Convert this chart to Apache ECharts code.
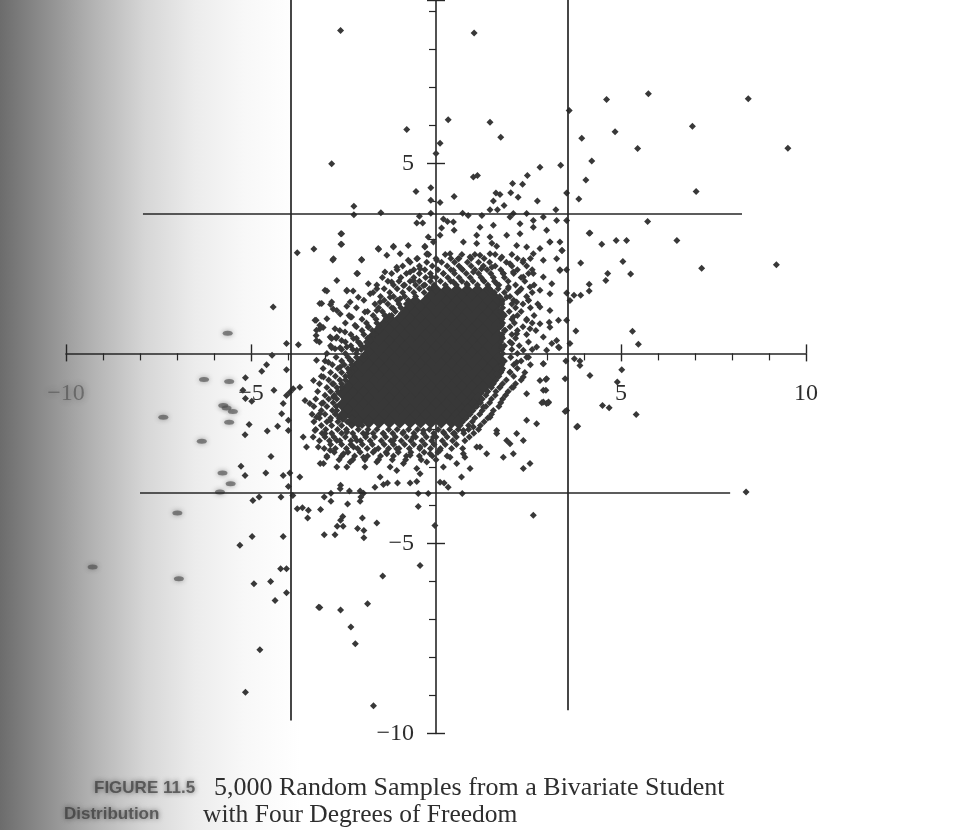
<!DOCTYPE html>
<html><head><meta charset="utf-8">
<script src="https://cdn.jsdelivr.net/npm/echarts/dist/echarts.min.js"></script>
<style>
html,body{margin:0;padding:0;background:#fff;}
#chart{width:960px;height:830px;background:linear-gradient(to right,#6c6c6c 0px,#8e8e8e 45px,#b4b4b4 95px,#d6d6d6 145px,#ececec 195px,#f8f8f8 245px,#ffffff 300px);}
</style></head><body><div id="chart"></div>
<script>
// ---- data ----
const xRange = [-10, 10];
const yRange = [-10, 9.3];
const xLabelValues = [-10, -5, 5, 10];
const yLabelValues = [-10, -5, 5];
// quantile reference lines: [position, from, to]
const verticalLines = [[-3.92, -9.66, 9.3], [3.55, -9.39, 9.3]];
const horizontalLines = [[3.68, -7.92, 8.27], [-3.66, -8.0, 7.95]];

// solid centre of the cloud: [y, [x values]]
const coreRows = [
 [1.65, [0,0.28,0.56,0.84,1.12,1.4]],
 [1.50, [-0.14,0.14,0.42,0.7,0.98,1.26,1.54]],
 [1.35, [-0.56,-0.28,0,0.28,0.56,0.84,1.12,1.4,1.68]],
 [1.20, [-0.7,-0.42,-0.14,0.14,0.42,0.7,0.98,1.26,1.54]],
 [1.05, [-0.84,-0.56,-0.28,0,0.28,0.56,0.84,1.12,1.4,1.68]],
 [0.90, [-1.26,-0.98,-0.7,-0.42,-0.14,0.14,0.42,0.7,0.98,1.26,1.54]],
 [0.75, [-1.4,-1.12,-0.84,-0.56,-0.28,0,0.28,0.56,0.84,1.12,1.4,1.68]],
 [0.60, [-1.54,-1.26,-0.98,-0.7,-0.42,-0.14,0.14,0.42,0.7,0.98,1.26,1.54]],
 [0.45, [-1.68,-1.4,-1.12,-0.84,-0.56,-0.28,0,0.28,0.56,0.84,1.12,1.4,1.68]],
 [0.30, [-1.71,-1.54,-1.26,-0.98,-0.7,-0.42,-0.14,0.14,0.42,0.7,0.98,1.26,1.54]],
 [0.15, [-1.83,-1.68,-1.4,-1.12,-0.84,-0.56,-0.28,0,0.28,0.56,0.84,1.12,1.4,1.68]],
 [0.00, [-1.82,-1.54,-1.26,-0.98,-0.7,-0.42,-0.14,0.14,0.42,0.7,0.98,1.26,1.54]],
 [-0.15, [-1.96,-1.68,-1.4,-1.12,-0.84,-0.56,-0.28,0,0.28,0.56,0.84,1.12,1.4,1.68]],
 [-0.30, [-2.1,-1.82,-1.54,-1.26,-0.98,-0.7,-0.42,-0.14,0.14,0.42,0.7,0.98,1.26,1.54]],
 [-0.45, [-2.24,-1.96,-1.68,-1.4,-1.12,-0.84,-0.56,-0.28,0,0.28,0.56,0.84,1.12,1.4,1.68]],
 [-0.60, [-2.26,-2.1,-1.82,-1.54,-1.26,-0.98,-0.7,-0.42,-0.14,0.14,0.42,0.7,0.98,1.26,1.54]],
 [-0.75, [-2.24,-1.96,-1.68,-1.4,-1.12,-0.84,-0.56,-0.28,0,0.28,0.56,0.84,1.12,1.4]],
 [-0.90, [-2.38,-2.1,-1.82,-1.54,-1.26,-0.98,-0.7,-0.42,-0.14,0.14,0.42,0.7,0.98,1.26]],
 [-1.05, [-2.52,-2.24,-1.96,-1.68,-1.4,-1.12,-0.84,-0.56,-0.28,0,0.28,0.56,0.84,1.12]],
 [-1.20, [-2.38,-2.1,-1.82,-1.54,-1.26,-0.98,-0.7,-0.42,-0.14,0.14,0.42,0.7,0.98,1.14]],
 [-1.35, [-2.52,-2.24,-1.96,-1.68,-1.4,-1.12,-0.84,-0.56,-0.28,0,0.28,0.56,0.84,1.01]],
 [-1.50, [-2.38,-2.1,-1.82,-1.54,-1.26,-0.98,-0.7,-0.42,-0.14,0.14,0.42,0.7,0.87]],
 [-1.65, [-2.52,-2.24,-1.96,-1.68,-1.4,-1.12,-0.84,-0.56,-0.28,0,0.28,0.56,0.74]],
 [-1.80, [-2.27,-2.1,-1.82,-1.54,-1.26,-0.98,-0.7,-0.42,-0.14,0.14,0.42,0.6]]
];

// dense speckled zone around the centre, thinning outwards: [y, [x values]]
const bandRows = [
 [2.6, [-0.2,0.25,0.7,1.05,1.6,2.05]],
 [2.5, [-0.5,0.0,0.4,0.62,0.95,1.3,1.75,2.2,2.55]],
 [2.4, [-0.7,-0.25,0.15,0.5,0.85,1.15,1.45,1.9,2.35]],
 [2.3, [-0.9,-0.45,-0.1,0.3,0.62,0.95,1.28,1.6,2.05,2.45]],
 [2.2, [-1.05,-0.6,-0.3,0.05,0.4,0.72,1.05,1.38,1.75,2.2,2.6]],
 [2.1, [-1.2,-0.8,-0.45,-0.15,0.2,0.5,0.82,1.15,1.48,1.82,2.1,2.5]],
 [2.0, [-1.45,-0.95,-0.6,-0.28,0.0,0.32,0.62,0.92,1.22,1.55,1.85,2.3]],
 [1.9, [-1.3,-1.0,-0.7,-0.45,-0.15,0.12,0.4,0.7,1.0,1.3,1.58,1.95,2.4]],
 [1.8, [-1.6,-1.15,-0.85,-0.55,-0.3,-0.05,0.25,0.55,0.85,1.12,1.4,1.7,2.15,2.65]],
 [1.7, [-1.4,-1.05,-0.72,-0.45,-0.18,1.45,1.68,1.95,2.3]],
 [1.6, [-1.7,-1.25,-0.9,-0.6,-0.32,1.58,1.85,2.2,2.6]],
 [1.5, [-1.5,-1.15,-0.85,-0.55,1.72,2.0,2.45]],
 [1.4, [-1.95,-1.4,-1.05,-0.75,1.8,2.1,2.5]],
 [1.3, [-1.65,-1.3,-1.0,-0.8,1.78,2.05,2.35,2.75]],
 [1.2, [-2.15,-1.55,-1.2,-0.95,1.8,2.15,2.55]],
 [1.1, [-1.85,-1.45,-1.1,1.75,1.98,2.3]],
 [1.0, [-2.35,-1.7,-1.38,-1.2,1.85,2.2,2.65]],
 [0.9, [-2.0,-1.62,-1.35,1.78,2.05,2.45]],
 [0.8, [-2.45,-1.88,-1.6,1.8,2.12,2.6]],
 [0.7, [-2.15,-1.82,-1.55,1.75,2.0,2.35]],
 [0.6, [-2.6,-2.0,-1.72,1.85,2.2,2.7]],
 [0.5, [-2.3,-1.95,-1.7,1.78,2.05,2.45]],
 [0.4, [-2.7,-2.15,-1.85,1.8,2.15]],
 [0.3, [-2.45,-2.1,-1.88,1.75,2.0,2.5]],
 [0.2, [-2.85,-2.3,-2.02,1.85,2.25]],
 [0.1, [-2.55,-2.25,-2.02,1.78,2.05,2.6]],
 [0.0, [-2.95,-2.45,-2.15,1.8,2.2]],
 [-0.1, [-2.7,-2.38,-2.15,1.75,2.02,2.45]],
 [-0.2, [-3.0,-2.55,-2.28,1.85,2.3]],
 [-0.3, [-2.8,-2.48,-2.28,1.78,2.1,2.55]],
 [-0.4, [-3.05,-2.65,-2.38,1.8,2.2]],
 [-0.5, [-2.85,-2.55,-2.35,1.75,2.0,2.4]],
 [-0.6, [-3.1,-2.72,-2.45,1.7,2.1]],
 [-0.7, [-2.9,-2.6,-2.45,1.62,1.9,2.3]],
 [-0.8, [-3.15,-2.8,-2.55,1.55,1.8,2.15]],
 [-0.9, [-2.95,-2.68,1.5,1.72,2.05]],
 [-1.0, [-3.2,-2.85,-2.65,1.4,1.62,1.95]],
 [-1.1, [-3.0,-2.75,1.35,1.6,1.88]],
 [-1.2, [-3.25,-2.9,-2.68,1.25,1.5,1.8]],
 [-1.3, [-3.05,-2.78,1.2,1.45,1.75]],
 [-1.4, [-3.3,-2.95,-2.7,1.1,1.35,1.7]],
 [-1.5, [-3.1,-2.8,1.0,1.25,1.55]],
 [-1.6, [-3.35,-3.0,-2.72,0.92,1.18,1.5]],
 [-1.7, [-3.15,-2.85,-2.62,0.82,1.05,1.4]],
 [-1.8, [-3.3,-2.95,-2.65,-2.4,0.72,0.98,1.3]],
 [-1.9, [-3.1,-2.82,-2.55,-2.28,-2.0,0.65,0.88,1.2]],
 [-2.0, [-3.25,-2.98,-2.66,-2.42,-2.1,-1.84,-1.6,-1.28,-1.05,-0.74,-0.5,-0.18,0.06,0.37,0.6,0.88,1.15]],
 [-2.1, [-3.08,-2.82,-2.55,-2.25,-1.97,-1.7,-1.43,-1.17,-0.9,-0.6,-0.34,-0.06,0.22,0.5,0.75,1.02]],
 [-2.2, [-3.0,-2.76,-2.45,-2.2,-1.9,-1.66,-1.36,-1.1,-0.8,-0.55,-0.26,0.0,0.3,0.55,0.9]],
 [-2.3, [-3.15,-2.88,-2.6,-2.3,-2.04,-1.78,-1.48,-1.22,-0.94,-0.68,-0.38,-0.12,0.17,0.45,0.78]],
 [-2.4, [-2.85,-2.55,-2.3,-1.99,-1.72,-1.4,-1.15,-0.85,-0.6,-0.3,-0.05,0.25,0.55]],
 [-2.5, [-3.02,-2.72,-2.42,-2.12,-1.86,-1.56,-1.28,-1.0,-0.72,-0.44,-0.15,0.12,0.42,0.72]],
 [-2.6, [-2.75,-2.38,-2.05,-1.7,-1.35,-1.02,-0.68,-0.32,0.05]],
 [-2.7, [-2.95,-2.55,-2.2,-1.85,-1.5,-1.15,-0.8,-0.45,-0.1,0.3]],
 [-2.8, [-2.62,-2.25,-1.92,-1.55,-1.18,-0.82,-0.4,0.0]]
];

// scattered points around the centre
const innerPoints = [
 [-2.55,2.87],[-1.56,2.76],[-1.15,2.80],[-0.75,2.84],[-0.30,2.80],[-0.07,2.93],[0.74,2.93],[1.10,2.89],[1.51,2.90],[1.64,2.82],[2.18,2.84],[2.45,2.80],[2.81,2.76],[3.08,2.93],
 [-2.77,2.49],[-2.01,2.47],[-1.33,2.58],[-0.97,2.62],[-0.75,2.45],[-0.52,2.49],[-0.25,2.61],[0.02,2.45],[0.38,2.62],[0.60,2.49],[0.92,2.54],[1.19,2.58],[1.46,2.62],[1.78,2.54],[2.00,2.36],[2.36,2.45],[2.63,2.62],[2.90,2.45],[3.26,2.49],
 [-2.14,2.10],[-1.38,2.14],[-1.06,2.27],[-0.70,2.14],[-0.43,2.23],[-0.12,2.01],[0.20,2.10],[0.47,2.18],[0.69,2.23],[1.01,2.14],[1.23,2.23],[1.51,2.27],[1.82,2.10],[2.09,2.14],[2.36,2.01],[2.63,2.10],[2.90,2.01],[3.13,1.83],
 [-2.68,1.92],[-3.0,1.66],[-2.41,1.66],[-1.83,1.83],[-1.60,1.70],[-1.20,1.88],[-0.88,1.79],[-0.61,1.92],[-0.34,1.79],[-0.07,1.75],[0.47,1.88],[0.83,1.83],[1.28,1.92],[1.64,1.83],[1.96,1.75],[2.27,1.66],[2.54,1.75],[2.81,1.66],[3.08,1.57],
 [-2.82,1.35],[-2.32,1.35],[-2.10,1.48],[-1.78,1.57],[-1.51,1.35],[-1.24,1.48],[-0.97,1.44],[-3.14,1.31],
 [-3.27,0.87],[-2.95,0.91],[-2.59,1.04],[-2.28,0.96],[-1.92,1.09],[-1.60,1.13],[-1.38,1.0],[-1.15,1.18],
 [-3.14,0.65],[-2.73,0.65],[-2.46,0.56],[-2.19,0.74],[-1.83,0.69],[-1.56,0.61],
 [-3.23,0.34],[-2.86,0.43],[-2.55,0.34],[-2.23,0.39],[-2.05,0.26],[-1.78,0.34],
 [-2.73,0.12],[-2.41,0.17],[-2.14,0.08],[-1.92,-0.05],
 [1.91,1.48],[2.18,1.35],[2.50,1.39],[2.81,1.22],[3.08,1.13],[3.31,0.87],
 [1.82,1.04],[2.09,0.96],[2.45,0.87],[2.81,0.78],[3.08,0.69],
 [1.87,0.61],[2.18,0.52],[2.54,0.65],[2.90,0.43],[3.26,0.34],
 [1.78,0.17],[2.05,0.26],[2.36,0.08],[2.72,0.17],[2.99,0.08],[3.31,0.17],
 [1.82,-0.18],[2.18,-0.23],[2.50,-0.10],[2.90,-0.27],
 [1.64,-0.54],[2.00,-0.49],[2.36,-0.62],[2.81,-0.71],
 [1.73,-0.89],[2.09,-0.89],[2.45,-1.06],[2.90,-1.28],[3.04,-1.28],
 [-3.23,-0.18],[-2.91,-0.23],[-2.59,-0.36],[-2.32,-0.18],
 [-3.31,-0.71],[-3.04,-0.62],[-2.77,-0.80],[-2.55,-0.89],
 [-3.09,-1.32],[-2.77,-1.15],[-3.14,-1.59],[-2.86,-1.76],[-2.68,-1.50],
 [-3.27,-2.03],[-3.0,-2.11],[-2.68,-2.29],[-2.41,-2.07],[-2.14,-2.29],[-1.87,-2.11],
 [-3.18,-2.46],[-2.86,-2.55],[-2.50,-2.64],[-2.23,-2.46],[-1.96,-2.73],[-1.65,-2.55],
 [-3.04,-2.90],[-2.68,-2.99],[-2.32,-2.86],[-1.92,-2.99],[-1.60,-2.86],
 [-1.42,-2.11],[-1.15,-2.29],[-0.88,-2.07],[-0.61,-2.20],[-0.34,-2.03],[-0.07,-2.20],[0.20,-2.07],[0.47,-2.11],[0.74,-2.03],[1.01,-1.94],
 [-1.33,-2.64],[-1.06,-2.51],[-0.70,-2.68],[-0.43,-2.46],[-0.16,-2.64],[0.11,-2.55],[0.38,-2.73],[0.74,-2.64],[1.10,-2.46],
 [-1.24,-2.99],[-0.88,-2.90],[-0.52,-3.03],[-0.25,-2.86],[0.20,-2.99],[0.56,-2.90],[0.92,-3.03],
 [1.28,-1.41],[1.46,-1.68],[1.64,-2.03],[1.91,-2.29],[2.18,-2.11],[2.45,-1.76],[2.72,-1.85],[2.36,-2.29],
 [1.37,-2.64],[1.82,-2.73],[2.09,-2.64],[2.54,-2.90],
 [-2.57,3.15],[-2.57,2.87],[-3.75,2.65],[-3.30,2.75],[-2.79,2.46],[-2.01,2.46],[-1.55,2.74],[-2.12,2.10],[-2.95,1.64],[-2.41,1.64],[-2.24,1.64],
 [-3.09,1.31],[-2.85,1.29],[-2.78,1.17],[-2.68,1.13],[-2.41,1.24],[-2.31,0.96],[-3.24,0.87],[-3.14,0.74],[-3.05,0.68],[-3.23,0.61],[-3.24,0.47],[-3.15,0.30],
 [-2.82,0.39],[-2.68,0.43],[-2.82,0.15],[-2.59,0.15],[-1.15,2.82],[-0.30,2.82],[-0.24,2.62],[-0.21,3.06],
 [2.09,3.68],[2.45,3.68],[0.20,3.54],[0.47,3.46],[1.19,3.32],[1.55,3.37],[2.00,3.59],[2.27,3.41],[2.63,3.50],[2.90,3.59],[3.26,3.50],[3.53,3.50],[4.16,3.17],
 [0.11,3.11],[1.10,3.11],[1.46,3.06],[1.91,3.11],[2.27,3.15],[2.63,3.32],[2.99,3.24],[3.40,2.71],[3.35,2.18],
 [3.49,-0.67],[2.99,-0.67],[2.90,-0.97],[2.99,-1.32],[3.53,-1.50],[3.80,-1.94],
 [-3.13,-2.90],[-3.50,-2.46],[-2.95,-2.73],[-2.41,-2.99],[-1.51,-3.25],[-1.06,-3.08],[-0.43,-3.17],[0.11,-3.39],[0.69,-3.25],[0.78,-2.73],[1.19,-2.46],[1.64,-2.11],[2.00,-2.38],[2.36,-3.03],
 [-3.68,-0.89],[-3.54,-1.24],[-4.13,-1.32],[-3.41,-1.32],[-3.23,-1.68],[-3.59,-2.20],[-3.32,-2.20]
];

// sparse tails
const tailPoints = [
 [5.74,6.83],[4.61,6.68],[8.44,6.70],[3.60,6.39],[6.93,5.98],[4.84,5.83],[3.94,5.66],[5.45,5.39],[9.51,5.40],[4.21,5.06],[3.37,4.95],[2.81,4.90],[2.47,4.68],[2.34,4.45],[4.05,4.56],[7.03,4.26],[3.53,4.22],[3.86,4.06],[2.74,4.01],[3.24,3.78],[5.72,3.47],[4.14,3.16],[4.48,2.87],[4.87,2.97],[5.15,2.97],[6.51,2.97],[3.35,2.93],[3.08,2.93],[3.41,2.71],[3.91,2.38],[5.05,2.42],[7.18,2.24],[9.20,2.33],[4.64,2.10],[4.59,1.92],[5.26,2.09],[4.14,1.82],[4.14,1.64],[3.91,1.53],[3.73,1.53],[3.62,1.39],[3.53,1.59],[3.53,2.20],[3.35,2.20],[3.53,0.87],[3.78,0.59],[5.31,0.58],[5.47,0.24],[3.62,0.26],[3.33,0.15],[3.06,0.82],[3.13,0.26],
 [-2.58,8.50],[1.03,8.43],[0.33,6.15],[1.46,6.08],[1.75,5.69],[-0.79,5.89],[0.11,5.53],[0.00,5.26],[-2.82,4.99],[1.01,4.64],[1.12,4.68],[2.07,4.47],[-0.54,4.26],[-0.14,4.36],[0.49,4.13],[-0.14,4.03],[0.11,3.97],[1.62,4.22],[1.73,4.18],[2.02,4.23],[2.22,4.11],[1.55,4.01],[1.84,3.89],[-2.22,3.87],[-2.22,3.65],[-1.49,3.70],[-0.45,3.61],[-0.52,3.43],[-0.36,3.43],[-0.14,3.69],[0.72,3.69],[0.87,3.63],[1.24,3.63],[1.46,3.78],[1.66,3.78],[0.31,3.47],[0.15,3.30],[0.49,3.24],[-2.55,3.15],
 [-4.40,1.22],[-5.63,0.53],[-4.04,0.26],[-3.72,0.23],[-4.43,-0.05],[-4.58,-0.30],[-4.71,-0.47],[-4.04,-0.43],[-6.27,-0.69],[-5.59,-0.74],[-5.15,-0.64],[-5.22,-0.97],[-5.15,-1.19],[-4.98,-1.26],[-4.38,-0.97],[-4.04,-1.11],[-3.86,-0.93],[-3.95,-1.02],[-5.75,-1.37],[-5.66,-1.44],[-5.49,-1.53],[-7.37,-1.68],[-5.59,-1.81],[-5.05,-1.87],[-4.17,-1.59],[-3.99,-1.76],[-4.28,-1.92],[-3.99,-2.03],[-4.56,-2.04],[-5.16,-2.14],[-6.33,-2.31],[-4.46,-2.71],[-5.27,-2.97],[-5.16,-3.21],[-5.77,-3.15],[-5.55,-3.43],[-4.60,-3.15],[-4.13,-3.21],[-3.95,-3.15],[-3.99,-3.50],[-3.68,-3.25],[-5.84,-3.65],[-4.95,-3.87],[-4.78,-3.78],[-4.19,-3.78],[-3.75,-4.09],[-3.61,-4.06],[-3.45,-4.13],[-3.47,-4.33],[-6.99,-4.20],[-4.97,-4.82],[-5.30,-5.05],[-4.13,-4.82],[-9.28,-5.62],[-6.95,-5.93],[-4.20,-5.67],[-4.04,-5.67],[-4.92,-6.06],[-4.47,-6.00],[-4.04,-6.30],[-4.35,-6.50],[-3.17,-6.68],[-4.76,-7.80],[-5.15,-8.92],
 [-3.87,-3.74],[-3.12,-4.11],[-3.02,-3.78],[-2.84,-3.68],[-2.84,-3.89],[-2.58,-3.47],[-2.59,-3.56],[-2.34,-3.62],[-2.05,-3.62],[-1.96,-3.68],[-2.03,-3.78],[-2.05,-3.89],[-2.39,-3.96],[-2.52,-4.29],[-2.58,-4.39],[-2.67,-4.55],[-2.51,-4.55],[-3.02,-4.77],[-2.73,-4.77],[-1.99,-4.33],[-2.12,-4.61],[-1.95,-4.66],[-1.95,-4.85],[-1.60,-4.46],[-1.65,-3.52],[-1.42,-3.45],[-1.31,-3.41],[-1.04,-3.41],[-0.70,-3.41],[-0.52,-3.37],[-0.48,-3.69],[-0.21,-3.69],[-0.48,-4.03],[-0.03,-4.53],[-0.43,-5.58],[-1.44,-5.86],[-1.85,-6.59],[-3.14,-6.69],[-2.58,-6.75],[-2.30,-7.20],[-2.18,-7.64],[-1.69,-9.27],[0.22,-3.41],[0.33,-3.52],[0.71,-3.69],[2.63,-4.26],
 [5.02,-0.43],[4.16,-0.58],[4.90,-0.75],[4.50,-1.37],[4.68,-1.43],[5.41,-1.61],[3.49,-1.53],[3.83,-1.92],[2.97,-0.69],[2.97,-0.97],[2.86,-1.30],[3.04,-1.30],[8.38,-3.65],[3.51,-0.20],[3.74,-0.14],[3.89,-0.20],[3.89,-0.32],[2.90,-0.27]
];

const captionNumber = 'FIGURE 11.5';
const captionLine1 = '5,000 Random Samples from a Bivariate Student';
const captionStart2 = 'Distribution';
const captionLine2 = 'with Four Degrees of Freedom';

// ---- build ----
const rowsToPoints = rows => {
  const out = [];
  rows.forEach(r => r[1].forEach(x => out.push([x, r[0]])));
  return out;
};
const coreData = rowsToPoints(coreRows);
const fadeLimit = -5.4;
const sharpData = rowsToPoints(bandRows).concat(innerPoints, tailPoints.filter(p => p[0] >= fadeLimit));
const fadedData = tailPoints.filter(p => p[0] < fadeLimit);

const ink = '#262626';
const dot = '#383838';
const serif = '"Liberation Serif", "DejaVu Serif", serif';
const minus = v => String(v).replace('-', '\u2212');

const lineData = [];
verticalLines.forEach(l => lineData.push([{coord: [l[0], l[1]]}, {coord: [l[0], l[2]]}]));
horizontalLines.forEach(l => lineData.push([{coord: [l[1], l[0]]}, {coord: [l[2], l[0]]}]));

// grid geometry
const gridLeft = 66, gridRight = 154, gridTop = 0, gridBottom = 96.6;
const plotW = 960 - gridLeft - gridRight, plotH = 830 - gridTop - gridBottom;
// axes cross at zero: shift each axis from the grid edge to the zero of the other axis
const xAxisShift = -plotH * (0 - yRange[0]) / (yRange[1] - yRange[0]);
const yAxisShift = -plotW * (0 - xRange[0]) / (xRange[1] - xRange[0]);

const chart = echarts.init(document.getElementById('chart'), null, {renderer: 'canvas'});
const axisCommon = {type: 'value', splitLine: {show: false}, interval: 5};
chart.setOption({
  animation: false,
  backgroundColor: 'transparent',
  grid: {left: gridLeft, right: gridRight, top: gridTop, bottom: gridBottom, containLabel: false, outerBoundsMode: 'none'},
  xAxis: [
    Object.assign({}, axisCommon, {
      min: xRange[0], max: xRange[1], position: 'bottom', offset: xAxisShift,
      axisLine: {show: true, onZero: false, lineStyle: {color: ink, width: 1.6}},
      axisTick: {show: true, inside: false, length: 8, lineStyle: {color: ink, width: 1.4}},
      minorTick: {show: true, splitNumber: 5, length: 7, lineStyle: {color: ink, width: 1.2}},
      axisLabel: {
        show: true, margin: 28, fontFamily: serif, fontSize: 24, color: '#2e2e2e',
        formatter: v => xLabelValues.indexOf(v) < 0 ? '' : (v === -10 ? '{f|' + minus(v) + '}' : minus(v)),
        rich: {f: {fontFamily: serif, fontSize: 24, color: 'rgba(60,60,60,0.5)', textShadowColor: 'rgba(50,50,50,0.9)', textShadowBlur: 6}}
      }
    }),
    Object.assign({}, axisCommon, {
      min: xRange[0], max: xRange[1], position: 'bottom', offset: xAxisShift,
      axisLine: {show: false, onZero: false},
      axisTick: {show: true, inside: true, length: 9, lineStyle: {color: ink, width: 1.4}},
      axisLabel: {show: false}
    })
  ],
  yAxis: [
    Object.assign({}, axisCommon, {
      min: yRange[0], max: yRange[1], position: 'left', offset: yAxisShift,
      axisLine: {show: true, onZero: false, lineStyle: {color: ink, width: 1.6}},
      axisTick: {show: true, inside: false, length: 9, lineStyle: {color: ink, width: 1.4}},
      minorTick: {show: true, splitNumber: 5, length: 7, lineStyle: {color: ink, width: 1.2}},
      axisLabel: {
        show: true, margin: 22, fontFamily: serif, fontSize: 24, color: '#2e2e2e',
        formatter: v => yLabelValues.indexOf(v) < 0 ? '' : minus(v)
      }
    }),
    Object.assign({}, axisCommon, {
      min: yRange[0], max: yRange[1], position: 'left', offset: yAxisShift,
      axisLine: {show: false, onZero: false},
      axisTick: {show: true, inside: true, length: 9, lineStyle: {color: ink, width: 1.4}},
      axisLabel: {show: false}
    })
  ],
  series: [
    {
      type: 'scatter', name: 'core', data: coreData, symbol: 'diamond', symbolSize: 14,
      itemStyle: {color: dot, opacity: 1}, silent: true, z: 2,
      markLine: {
        silent: true, symbol: ['none', 'none'], label: {show: false},
        lineStyle: {color: ink, width: 1.7, type: 'solid', opacity: 1},
        emphasis: {disabled: true}, data: lineData
      }
    },
    {
      type: 'scatter', name: 'samples', data: sharpData, symbol: 'diamond', symbolSize: 7,
      itemStyle: {color: dot, opacity: 1}, silent: true, z: 3
    },
    {
      type: 'scatter', name: 'faded', data: fadedData, symbol: 'circle', symbolSize: [10, 5],
      itemStyle: {color: 'rgba(80,80,80,0.65)', opacity: 1, shadowBlur: 5, shadowColor: 'rgba(60,60,60,0.7)'}, silent: true, z: 3
    }
  ],
  graphic: [
    {type: 'text', left: 94, top: 780, silent: true,
     style: {text: captionNumber, font: 'bold 17px "Liberation Sans"', fill: 'rgba(55,55,55,0.7)', textShadowColor: 'rgba(40,40,40,0.9)', textShadowBlur: 5}},
    {type: 'text', left: 214, top: 775, silent: true,
     style: {text: captionLine1, font: '26px ' + serif, fill: '#2e2e2e'}},
    {type: 'text', left: 64, top: 806, silent: true,
     style: {text: captionStart2, font: 'bold 17px "Liberation Sans"', fill: 'rgba(55,55,55,0.7)', textShadowColor: 'rgba(40,40,40,0.9)', textShadowBlur: 5}},
    {type: 'text', left: 203, top: 802, silent: true,
     style: {text: captionLine2, font: '25.5px ' + serif, fill: '#2e2e2e'}}
  ]
});
</script></body></html>
